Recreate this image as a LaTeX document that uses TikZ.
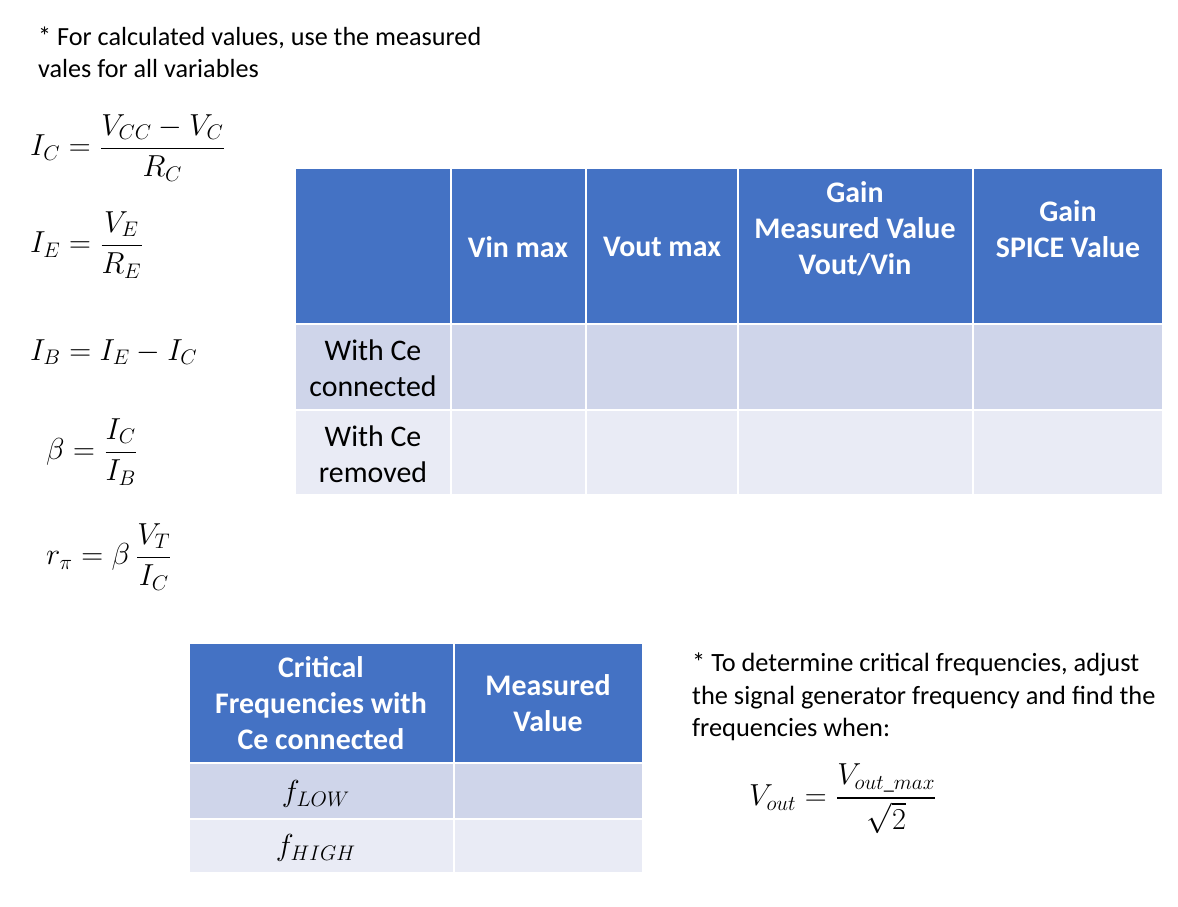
\documentclass[tikz,border=0pt]{standalone}
\usepackage{fontspec}
\setmainfont{Carlito}
\usepackage{amsmath}
\begin{document}
\begin{tikzpicture}[x=0.02cm,y=-0.02cm,
  hd/.style={fill=hdc,draw=white,line width=1.5pt},
  ra/.style={fill=rac,draw=white,line width=1.5pt},
  rb/.style={fill=rbc,draw=white,line width=1.5pt},
  ht/.style={text=white,font=\fontsize{17}{20.5}\selectfont\bfseries,align=center},
  bt/.style={font=\fontsize{17}{20.5}\selectfont,align=center},
  nt/.style={font=\fontsize{14.9}{18}\selectfont,align=left,anchor=west},
  eq/.style={font=\fontsize{16.5}{18}\selectfont,anchor=west}]
\definecolor{hdc}{HTML}{4472C4}
\definecolor{rac}{HTML}{CFD5EA}
\definecolor{rbc}{HTML}{E9EBF5}
\useasboundingbox (0,0) rectangle (1178,907);
% notes
\node[nt] (n1) at (32,52) {* For calculated values, use the measured\\vales for all variables};
% equations
\node[eq] (e1) at (24,148) {$I_C=\dfrac{V_{CC}-V_C}{R_C}$};
\node[eq] (e2) at (24,245) {$I_E=\dfrac{V_E}{R_E}$};
\node[eq] (e3) at (24,352) {$I_B=I_E-I_C$};
\node[eq] (e4) at (40,452) {$\beta=\dfrac{I_C}{I_B}$};
\node[eq] (e5) at (40,557) {$r_\pi=\beta\,\dfrac{V_T}{I_C}$};
% top table
\foreach \a/\b in {295/451,451/586,586/738,738/973,973/1163}{
  \draw[hd] (\a,168) rectangle (\b,324);
  \draw[ra] (\a,324) rectangle (\b,410);
  \draw[rb] (\a,410) rectangle (\b,495);}
\node[ht] (h1) at (518,247) {Vin max};
\node[ht] (h2) at (662,247) {Vout max};
\node[ht] (h3) at (855,229) {Gain\\Measured Value\\Vout/Vin};
\node[ht] (h4) at (1068,229) {Gain\\SPICE Value};
\node[bt] (r1) at (373,368) {With Ce\\connected};
\node[bt] (r2) at (373,454) {With Ce\\removed};
% bottom table
\foreach \a/\b in {189/454,454/643}{
  \draw[hd] (\a,643) rectangle (\b,763);
  \draw[ra] (\a,763) rectangle (\b,819);
  \draw[rb] (\a,819) rectangle (\b,873);}
\node[ht] (g1) at (321,703) {Critical\\Frequencies with\\Ce connected};
\node[ht] (g2) at (548,703) {Measured\\Value};
\node[bt,font=\fontsize{16.5}{18}\selectfont] (f1) at (316,794) {$f_{LOW}$};
\node[bt,font=\fontsize{16.5}{18}\selectfont] (f2) at (316,848) {$f_{HIGH}$};
% note 2
\node[nt,font=\fontsize{15}{18.5}\selectfont] (n2) at (686,697) {* To determine critical frequencies, adjust\\the signal generator frequency and find the\\frequencies when:};
\node[eq] (e6) at (743,799) {$V_{out}=\dfrac{V_{out\_max}}{\sqrt{2}}$};
\end{tikzpicture}
\end{document}
